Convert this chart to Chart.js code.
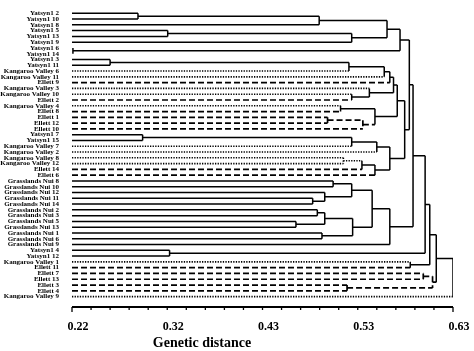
<!DOCTYPE html>
<html>
<head>
<meta charset="utf-8">
<script src="https://cdn.jsdelivr.net/npm/chart.js@4.4.1/dist/chart.umd.min.js"></script>
<style>
  body { margin: 0; background: #fff; }
  #wrap { width: 474px; height: 351px; }
</style>
</head>
<body>
<div id="wrap"><canvas id="dendro"></canvas></div>
<script>
// Leaves, top to bottom
var leafLabels = [
  "Yatsyn1 2", "Yatsyn1 10", "Yatsyn1 8", "Yatsyn1 5", "Yatsyn1 13",
  "Yatsyn1 9", "Yatsyn1 6", "Yatsyn1 14", "Yatsyn1 3", "Yatsyn1 11",
  "Kangaroo Valley 6", "Kangaroo Valley 11", "Ellett 9", "Kangaroo Valley 3", "Kangaroo Valley 10",
  "Ellett 2", "Kangaroo Valley 4", "Ellett 8", "Ellett 1", "Ellett 12",
  "Ellett 10", "Yatsyn1 7", "Yatsyn1 15", "Kangaroo Valley 7", "Kangaroo Valley 2",
  "Kangaroo Valley 8", "Kangaroo Valley 12", "Ellett 14", "Ellett 6", "Grasslands Nui 8",
  "Grasslands Nui 10", "Grasslands Nui 12", "Grasslands Nui 11", "Grasslands Nui 14", "Grasslands Nui 2",
  "Grasslands Nui 3", "Grasslands Nui 5", "Grasslands Nui 13", "Grasslands Nui 1", "Grasslands Nui 6",
  "Grasslands Nui 9", "Yatsyn1 4", "Yatsyn1 12", "Kangaroo Valley 1", "Ellett 11",
  "Ellett 7", "Ellett 13", "Ellett 3", "Ellett 4", "Kangaroo Valley 9"
];

// Joins: [name, left child, right child, genetic distance]
// a child is a leaf index (number) or the name of an earlier join
var merges = [
  ["A1", 0, 1, 0.291],
  ["A2", "A1", 2, 0.486],
  ["A3", 3, 4, 0.323],
  ["A4", "A3", 5, 0.521],
  ["A5", "A2", "A4", 0.559],
  ["A6", 6, 7, 0.221],
  ["A", "A5", "A6", 0.573],
  ["B1", 8, 9, 0.261],
  ["B2", "B1", 10, 0.518],
  ["B3", "B2", 11, 0.556],
  ["B4", "B3", 12, 0.562],
  ["C1", 14, 15, 0.521],
  ["C", 13, "C1", 0.540],
  ["B5", "B4", "C", 0.566],
  ["D1", 16, 17, 0.509],
  ["D2", 18, 19, 0.495],
  ["D3", "D2", 20, 0.533],
  ["D", "D1", "D3", 0.546],
  ["B", "B5", "D", 0.570],
  ["F1", 21, 22, 0.296],
  ["F2", "F1", 23, 0.521],
  ["F3", "F2", 24, 0.548],
  ["F4", 25, 26, 0.512],
  ["F5", "F4", 27, 0.532],
  ["F6", "F5", 28, 0.546],
  ["F", "F3", "F6", 0.562],
  ["BF", "B", "F", 0.578],
  ["ABF", "A", "BF", 0.583],
  ["G1", 29, 30, 0.501],
  ["G2", 32, 33, 0.479],
  ["G3", 31, "G2", 0.492],
  ["G4", "G1", "G3", 0.521],
  ["G5", 34, 35, 0.484],
  ["G6", 36, 37, 0.461],
  ["G7", "G5", "G6", 0.492],
  ["G8", 38, 39, 0.489],
  ["G9", "G7", "G8", 0.522],
  ["G10", "G4", "G9", 0.543],
  ["G", "G10", 40, 0.562],
  ["H", "ABF", "G", 0.587],
  ["Y412", 41, 42, 0.325],
  ["H2", "H", "Y412", 0.600],
  ["K1", 43, 44, 0.584],
  ["I", "H2", "K1", 0.605],
  ["E713", 45, 46, 0.598],
  ["E34", 47, 48, 0.516],
  ["J", "E713", "E34", 0.608],
  ["K", "I", "J", 0.612],
  ["root", "K", 49, 0.630]
];

var xMin = 0.22;
var xMax = 0.63;
var xTickValues = [0.22, 0.3225, 0.425, 0.5275, 0.63];
var xTickLabels = ["0.22", "0.32", "0.43", "0.53", "0.63"];
var xMinorStep = 0.0205;

// line style by population
function styleOf(label) {
  if (label.indexOf("Kangaroo") === 0) return "dotted";
  if (label.indexOf("Ellett") === 0) return "dashed";
  return "solid";
}

// walk the joins and turn them into line segments
var segs = { solid: [], dotted: [], dashed: [] };
var nodes = {};
leafLabels.forEach(function (label, i) {
  nodes[i] = { x: xMin, y: i, style: styleOf(label) };
});

function addSeg(style, x1, y1, x2, y2) {
  segs[style].push({ x: x1, y: y1 }, { x: x2, y: y2 }, { x: null, y: null });
}

merges.forEach(function (m) {
  var a = nodes[m[1]];
  var b = nodes[m[2]];
  var h = m[3];
  var style = a.style === b.style ? a.style : "solid";
  addSeg(a.style, a.x, a.y, h, a.y);
  addSeg(b.style, b.x, b.y, h, b.y);
  addSeg(style, h, a.y, h, b.y);
  nodes[m[0]] = { x: h, y: (a.y + b.y) / 2, style: style };
});

function lineSet(style, dash, width) {
  return {
    data: segs[style],
    showLine: true,
    borderColor: "#000",
    borderWidth: width,
    borderDash: dash,
    pointRadius: 0,
    spanGaps: false,
  };
}

// axis line, small ticks and axis title
var axisPlugin = {
  id: "axisPlugin",
  afterDraw: function (chart) {
    var ctx = chart.ctx;
    var xs = chart.scales.x;
    var yb = chart.chartArea.bottom;
    ctx.save();
    ctx.strokeStyle = "#000";
    ctx.lineWidth = 1.8;
    ctx.beginPath();
    ctx.moveTo(xs.getPixelForValue(xMin), yb);
    ctx.lineTo(xs.getPixelForValue(xMax), yb);
    ctx.stroke();
    ctx.lineWidth = 1.3;
    for (var i = 0; i <= 20; i++) {
      var px = xs.getPixelForValue(xMin + i * xMinorStep);
      var len = i === 0 || i === 20 ? 5 : 3;
      ctx.beginPath();
      ctx.moveTo(px, yb);
      ctx.lineTo(px, yb + len);
      ctx.stroke();
    }
    ctx.fillStyle = "#000";
    ctx.font = "bold 14px 'Liberation Serif'";
    ctx.textAlign = "center";
    ctx.textBaseline = "middle";
    ctx.fillText("Genetic distance", 202, 343);
    ctx.restore();
  },
};

var ctx = document.getElementById("dendro").getContext("2d");
var chart = new Chart(ctx, {
  type: "scatter",
  data: {
    datasets: [
      lineSet("solid", [], 1.5),
      lineSet("dotted", [1.3, 1.3], 1.6),
      lineSet("dashed", [6, 3], 1.7),
    ],
  },
  options: {
    responsive: true,
    maintainAspectRatio: false,
    animation: false,
    layout: { padding: { top: 8, right: 21, left: 0, bottom: 0 } },
    plugins: { legend: { display: false }, tooltip: { enabled: false } },
    scales: {
      x: {
        type: "linear",
        min: xMin,
        max: xMax,
        grid: { display: false },
        border: { display: false },
        afterBuildTicks: function (scale) {
          scale.ticks = xTickValues.map(function (v) { return { value: v }; });
        },
        afterFit: function (scale) { scale.height = 44; },
        ticks: {
          color: "#000",
          padding: 5,
          labelOffset: 6,
          font: { family: "Liberation Serif", size: 12, weight: "bold" },
          callback: function (value, index) { return xTickLabels[index]; },
        },
      },
      y: {
        type: "linear",
        reverse: true,
        min: -0.7,
        max: 50.8,
        grid: { display: false },
        border: { display: false },
        afterBuildTicks: function (scale) {
          scale.ticks = leafLabels.map(function (l, i) { return { value: i }; });
        },
        afterFit: function (scale) { scale.width = 72; },
        ticks: {
          color: "#000",
          padding: 5,
          autoSkip: false,
          font: { family: "Liberation Serif", size: 7, weight: "bold" },
          callback: function (value) { return leafLabels[value]; },
        },
      },
    },
  },
  plugins: [axisPlugin],
});
</script>
</body>
</html>
